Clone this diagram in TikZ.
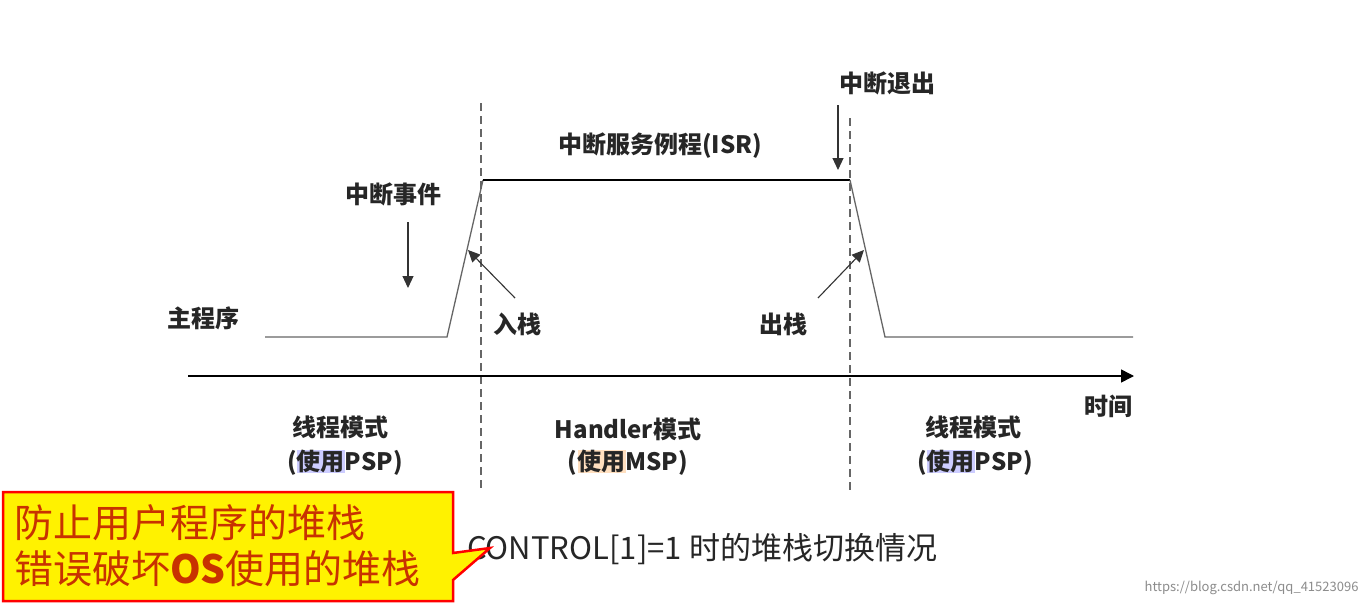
\documentclass[tikz,border=0pt]{standalone}
\usepackage{fontspec}
\setmainfont{Noto Sans CJK SC}
\usetikzlibrary{arrows.meta}
\definecolor{calltxt}{RGB}{200,50,0}
\tikzset{
 lbl/.style={font=\fontsize{24}{27}\selectfont\bfseries, text=black!85, inner sep=1pt},
 sig/.style={draw=black!60, line width=1.3pt},
 dsh/.style={draw=black!60, line width=1.3pt, dash pattern=on 8pt off 5pt},
 pt/.style={draw=black!80, line width=1.1pt, -{Triangle[length=12pt,width=11pt]}},
 hlb/.style={fill=blue!20, inner sep=0pt},
 hlo/.style={fill=orange!25, inner sep=0pt}
}
\begin{document}
\begin{tikzpicture}[x=1pt,y=-1pt]
\useasboundingbox (0,0) rectangle (1366,605);
\fill[white] (0,0) rectangle (1366,605);
% signal
\coordinate (s0) at (265,337); \coordinate (s1) at (447,337);
\coordinate (s2) at (483,180); \coordinate (s3) at (850,180);
\coordinate (s4) at (885,337); \coordinate (s5) at (1133,337);
\draw[sig] (s0)--(s1)--(s2);
\draw[line width=1.3pt] (s2)--(s3);
\draw[sig] (s3)--(s4)--(s5);
% dashed
\coordinate (d1a) at (481,103); \coordinate (d1b) at (481,492);
\coordinate (d2a) at (850,118); \coordinate (d2b) at (850,490);
\draw[dsh] (d1a)--(d1b);
\draw[dsh] (d2a)--(d2b);
% axis
\coordinate (ax0) at (188,376); \coordinate (ax1) at (1134,376);
\draw[line width=1.5pt, -{Triangle[length=13pt,width=13pt]}] (ax0)--(ax1);
\node[lbl] (time) at (1108,406) {时间};
\node[lbl] (main) at (203,318) {主程序};
\node[lbl] (evt) at (393,194) {中断事件};
\coordinate (e0) at (408,222); \coordinate (e1) at (408,288);
\draw[pt] (e0)--(e1);
\node[lbl] (isr) at (660,146) {中断服务例程(ISR)};
\node[lbl] (exit) at (887,83) {中断退出};
\coordinate (x0) at (838,105); \coordinate (x1) at (838,170);
\draw[pt] (x0)--(x1);
\node[lbl] (push) at (517,324) {入栈};
\coordinate (p0) at (515,298); \coordinate (p1) at (468,250);
\draw[pt] (p0)--(p1);
\node[lbl] (pop) at (783,324) {出栈};
\coordinate (q0) at (818,298); \coordinate (q1) at (864,250);
\draw[pt] (q0)--(q1);
% modes
\node[lbl] (m1) at (340,427) {线程模式};
\node[lbl] (m1b) at (345,463) {(\tikz[baseline]\node[hlb,anchor=base]{使用};PSP)};
\node[lbl] (m2) at (628,429) {Handler模式};
\node[lbl] (m2b) at (628,463) {(\tikz[baseline]\node[hlo,anchor=base]{使用};MSP)};
\node[lbl] (m3) at (973,427) {线程模式};
\node[lbl] (m3b) at (975,463) {(\tikz[baseline]\node[hlb,anchor=base]{使用};PSP)};
% caption
\node[font=\fontsize{31}{34}\selectfont, text=black!85, anchor=west, inner sep=0pt] (cap) at (467,549) {CONTROL[1]=1 时的堆栈切换情况};
% callout
\draw[red, line width=2.5pt, fill=yellow] (3,492) -- (453,492) -- (453,553) -- (490,548) -- (453,580) -- (453,601) -- (3,601) -- cycle;
\node[font=\fontsize{39}{46}\selectfont, text=calltxt, align=left, anchor=west, inner sep=0pt] (cl) at (14,546) {防止用户程序的堆栈\\错误破坏\textbf{OS}使用的堆栈};
\node[font=\fontsize{13}{15}\selectfont, text=black!45, anchor=east] (wm) at (1362,588) {https://blog.csdn.net/qq\_41523096};
\end{tikzpicture}
\end{document}
